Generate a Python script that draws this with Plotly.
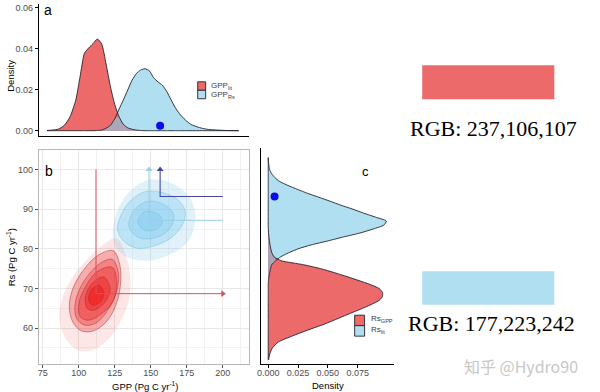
import numpy as np
import plotly.graph_objects as go

# ---------------- data ----------------
# Panel a: GPP density curves
gpp_grid = [78, 82, 86, 90, 94, 98, 101, 104, 107, 110, 113, 116, 119, 122, 125, 128, 131, 134, 137,
            140, 143, 146, 149, 152, 155, 158, 161, 164, 167, 170, 174, 178, 182, 186, 190, 196, 202, 211]
gpp_lit_density = [0.0001, 0.0003, 0.0008, 0.0026, 0.0068, 0.015, 0.0265, 0.0378, 0.0404, 0.0425,
                   0.0447, 0.0422, 0.0325, 0.0215, 0.0128, 0.0068, 0.0031, 0.0014, 0.0007, 0.0003,
                   0.0001, 0, 0, 0, 0, 0, 0, 0, 0, 0, 0, 0, 0, 0, 0, 0, 0, 0]
gpp_rs_density = [0, 0, 0, 0, 0, 0, 0, 0, 0, 0, 0.0001, 0.0003, 0.0012, 0.0026, 0.0058, 0.0105,
                  0.015, 0.0198, 0.0246, 0.0278, 0.0296, 0.0302, 0.0292, 0.0258, 0.0238, 0.0222,
                  0.0192, 0.0152, 0.0112, 0.0082, 0.0052, 0.003, 0.0019, 0.0011, 0.0006, 0.0003,
                  0.0001, 0]

# Panel c: Rs density curves
rs_grid = [52, 53.5, 55, 56.5, 58, 59.5, 61, 62.5, 64, 65.5, 67, 68, 69, 70, 71, 72, 73, 74, 75, 76,
           77, 78, 79, 80, 81, 82, 83, 84, 85, 86, 87, 88, 89, 90, 91, 92, 93, 94, 95, 96, 97, 98,
           99, 100, 101, 102, 103]
rs_gpp_density = [0.0003, 0.0013, 0.0035, 0.0085, 0.02, 0.033, 0.047, 0.059, 0.071, 0.083, 0.093,
                  0.0958, 0.0958, 0.093, 0.0855, 0.076, 0.066, 0.0555, 0.044, 0.0295, 0.011, 0.0048,
                  0.0031, 0.0021, 0.0015, 0.001, 0.0006, 0.0003, 0.0001,
                  0, 0, 0, 0, 0, 0, 0, 0, 0, 0, 0, 0, 0, 0, 0, 0, 0, 0]
rs_lit_density = [0, 0, 0, 0, 0, 0, 0, 0, 0, 0, 0, 0, 0, 0, 0,
                  0.0002, 0.0006, 0.0012, 0.0019, 0.003, 0.0062, 0.0105, 0.017, 0.025, 0.036, 0.05,
                  0.063, 0.077, 0.088, 0.097, 0.099, 0.09, 0.08, 0.071, 0.061, 0.052, 0.0425, 0.033,
                  0.0245, 0.0165, 0.0095, 0.0055, 0.0028, 0.0012, 0.0006, 0.0002, 0]

# Observed point (blue dots)
obs_gpp = 156.5
obs_rs = 93.2
obs_gpp_density = 0.0024
obs_rs_density = 0.0053

# Panel b: cloud outlines (GPP, Rs)
red_halo_gpp = [127, 133, 136, 134, 128, 120, 110, 99, 90, 86.5, 89, 96, 105, 115, 123, 127]
red_halo_rs = [82.5, 78, 72, 66, 61, 57, 54.5, 54.5, 58, 63, 68, 73, 77, 80.5, 82.5, 82.5]
red_outer_gpp = [124, 128.5, 129, 126, 119, 110, 102, 96, 93.5, 96, 104, 114, 124]
red_outer_rs = [79.5, 76, 71, 66, 61.5, 59.3, 59.3, 61.5, 65.5, 70, 75, 78.5, 79.5]
red_ring2_gpp = [123.5, 127.5, 126.5, 121, 112, 104, 98.5, 97.5, 101.5, 110, 118, 123.5]
red_ring2_rs = [77.3, 74, 69.5, 65, 61.3, 60.8, 62.5, 66, 70.5, 74.8, 77, 77.3]
red_mid_gpp = [123, 126.4, 124.1, 116.1, 106.9, 101.2, 100.1, 104.7, 112.6, 123]
red_mid_rs = [75.4, 72.1, 67, 63.7, 62, 62.8, 66.2, 70.4, 74.2, 75.4]
red_inner_gpp = [117.2, 121.8, 118.4, 110.4, 105.8, 104.7, 109.2, 117.2]
red_inner_rs = [72.9, 70, 66.6, 64.5, 65, 67.9, 71.2, 72.9]
red_core_gpp = [114, 117.5, 115, 109.5, 107, 108.5, 114]
red_core_rs = [70.8, 69, 66.6, 65.8, 67, 69.5, 70.8]

blue_halo_gpp = [150, 165, 177, 181, 176, 163, 147, 133, 125, 124, 130, 140, 150]
blue_halo_rs = [97.5, 96.5, 93, 88, 82, 78.5, 77, 78, 81, 86, 92, 96, 97.5]
blue_outer_gpp = [147, 160, 170, 174, 171, 163, 150, 140, 131, 127, 130, 137, 147]
blue_outer_rs = [94.5, 94, 92, 89, 85.5, 82.5, 80.5, 80.2, 82, 85, 89, 92.5, 94.5]
blue_mid_gpp = [148, 160, 166, 163, 153, 142, 135, 138, 148]
blue_mid_rs = [92, 91, 88.5, 85, 82.8, 82.8, 85.5, 89.5, 92]
blue_inner_gpp = [148, 156, 158, 153, 145, 141, 144, 148]
blue_inner_rs = [89.5, 88.5, 86.5, 84.8, 84.8, 87, 89, 89.5]

# Guide lines in panel b: red, light blue, dark blue
guide_gpp = [112.0, 148.8, 156.5]
guide_rs = [68.7, 87.2, 93.2]
guide_top = 100
guide_right = 200

# Ticks
gpp_ticks = [75, 100, 125, 150, 175, 200]
rs_ticks = [60, 70, 80, 90, 100]
dens_a_ticks = [0, 0.02, 0.04, 0.06]
dens_a_labels = ["0.00", "0.02", "0.04", "0.06"]
dens_c_ticks = [0, 0.025, 0.05, 0.075]
dens_c_labels = ["0.000", "0.025", "0.050", "0.075"]

# Swatch colours
red_rgb = [237, 106, 107]
blue_rgb = [177, 223, 242]

# ---------------- styling ----------------
RED = "rgb({},{},{})".format(*red_rgb)
BLUE = "rgb({},{},{})".format(*blue_rgb)
GREY = "rgb(170,167,187)"
OUTLINE = "rgb(35,35,45)"
FONT = "Liberation Sans, Arial, sans-serif"
TICKC = "rgb(77,77,77)"
W, H = 600, 392


def px(v):
    return v / W


def py(v):
    return 1 - v / H


fig = go.Figure()
sp = dict(shape="spline", smoothing=0.6)

# ---- panel a ----
ov_a = np.minimum(np.array(gpp_lit_density), np.array(gpp_rs_density))
for yv, col in [(gpp_rs_density, BLUE), (gpp_lit_density, RED), (ov_a, GREY)]:
    fig.add_trace(go.Scatter(x=gpp_grid, y=yv, mode="lines", fill="tozeroy", fillcolor=col,
                             line=dict(width=0, **sp), xaxis="x", yaxis="y", hoverinfo="skip"))
for yv in [gpp_rs_density, gpp_lit_density]:
    fig.add_trace(go.Scatter(x=gpp_grid, y=yv, mode="lines", line=dict(width=0.9, color=OUTLINE, **sp),
                             xaxis="x", yaxis="y", hoverinfo="skip"))
fig.add_trace(go.Scatter(x=[obs_gpp], y=[obs_gpp_density], mode="markers",
                         marker=dict(size=8, color="rgb(10,10,240)"), xaxis="x", yaxis="y"))

# ---- panel b ----
RLINE = "rgba(170,40,50,0.7)"
BLINE = "rgba(120,190,220,0.7)"
clouds = [
    (red_halo_gpp, red_halo_rs, "rgba(240,60,60,0.13)", "rgba(0,0,0,0)"),
    (blue_halo_gpp, blue_halo_rs, "rgba(130,200,235,0.25)", "rgba(0,0,0,0)"),
    (red_outer_gpp, red_outer_rs, "rgba(238,40,40,0.3)", RLINE),
    (red_ring2_gpp, red_ring2_rs, "rgba(238,35,35,0.3)", RLINE),
    (red_mid_gpp, red_mid_rs, "rgba(238,30,30,0.35)", RLINE),
    (red_inner_gpp, red_inner_rs, "rgba(238,25,25,0.4)", RLINE),
    (red_core_gpp, red_core_rs, "rgba(238,20,20,0.45)", RLINE),
    (blue_outer_gpp, blue_outer_rs, "rgba(120,200,238,0.35)", BLINE),
    (blue_mid_gpp, blue_mid_rs, "rgba(120,200,238,0.3)", BLINE),
    (blue_inner_gpp, blue_inner_rs, "rgba(120,200,238,0.3)", BLINE),
]
for gx, ry, fc, lc in clouds:
    fig.add_trace(go.Scatter(x=gx, y=ry, mode="lines", fill="toself", fillcolor=fc,
                             line=dict(width=0.7, color=lc, shape="spline", smoothing=1.0),
                             xaxis="x2", yaxis="y2", hoverinfo="skip"))

guide_cols = ["rgb(220,80,90)", "rgb(150,208,228)", "rgb(70,70,165)"]
# red: vertical from top down, horizontal to right
fig.add_trace(go.Scatter(x=[guide_gpp[0], guide_gpp[0], guide_right],
                         y=[guide_top, guide_rs[0], guide_rs[0]], mode="lines",
                         line=dict(width=1, color=guide_cols[0]), xaxis="x2", yaxis="y2"))
for i in (1, 2):
    fig.add_trace(go.Scatter(x=[guide_gpp[i], guide_gpp[i], guide_right],
                             y=[guide_top, guide_rs[i], guide_rs[i]], mode="lines",
                             line=dict(width=1.1 if i == 2 else 1, color=guide_cols[i]),
                             xaxis="x2", yaxis="y2"))
# arrow heads
fig.add_trace(go.Scatter(x=[guide_right], y=[guide_rs[0]], mode="markers",
                         marker=dict(symbol="triangle-right", size=6, color=guide_cols[0]),
                         xaxis="x2", yaxis="y2"))
fig.add_trace(go.Scatter(x=guide_gpp[1:], y=[guide_top, guide_top], mode="markers",
                         marker=dict(symbol="triangle-up", size=6, color=guide_cols[1:]),
                         xaxis="x2", yaxis="y2"))

# ---- panel c ----
ov_c = np.minimum(np.array(rs_gpp_density), np.array(rs_lit_density))
for xv, col in [(rs_lit_density, BLUE), (rs_gpp_density, RED), (ov_c, GREY)]:
    fig.add_trace(go.Scatter(x=xv, y=rs_grid, mode="lines", fill="tozerox", fillcolor=col,
                             line=dict(width=0, **sp), xaxis="x3", yaxis="y3", hoverinfo="skip"))
for xv in [rs_lit_density, rs_gpp_density]:
    fig.add_trace(go.Scatter(x=xv, y=rs_grid, mode="lines", line=dict(width=0.9, color=OUTLINE, **sp),
                             xaxis="x3", yaxis="y3", hoverinfo="skip"))
fig.add_trace(go.Scatter(x=[obs_rs_density], y=[obs_rs], mode="markers",
                         marker=dict(size=8, color="rgb(10,10,240)"), xaxis="x3", yaxis="y3"))

# ---------------- axes ----------------
tickfont = dict(family=FONT, size=9, color=TICKC)
gpp_range = [72.3, 218.4]
rs_range = [50.94, 105.03]
fig.update_layout(
    width=W, height=H, margin=dict(l=0, r=0, t=0, b=0),
    paper_bgcolor="white", plot_bgcolor="white", showlegend=False,
    xaxis=dict(domain=[px(35), px(247)], range=gpp_range, showline=True, linecolor="black", linewidth=1,
               showticklabels=False, ticks="", showgrid=False, zeroline=False, anchor="y"),
    yaxis=dict(domain=[py(135), py(3)], range=[-0.00243, 0.0618], tickvals=dens_a_ticks,
               ticktext=dens_a_labels, ticks="outside", ticklen=3, tickcolor="black", showline=True,
               linecolor="black", linewidth=1, showgrid=False, zeroline=False, anchor="x", tickfont=tickfont),
    xaxis2=dict(domain=[px(35), px(247)], range=gpp_range, tickvals=gpp_ticks, ticks="outside", ticklen=3,
                tickcolor="rgb(80,80,80)", showline=True, mirror=True, linecolor="rgb(185,185,185)",
                linewidth=1, showgrid=True, gridcolor="rgb(232,232,232)", gridwidth=0.8, zeroline=False,
                minor=dict(tick0=62.5, dtick=12.5, showgrid=True, gridcolor="rgb(242,242,242)", gridwidth=0.5),
                anchor="y2", tickfont=tickfont, ticklabelstandoff=-3),
    yaxis2=dict(domain=[py(364), py(149)], range=rs_range, tickvals=rs_ticks, ticks="outside", ticklen=3,
                tickcolor="rgb(80,80,80)", showline=True, mirror=True, linecolor="rgb(185,185,185)",
                linewidth=1, showgrid=True, gridcolor="rgb(232,232,232)", gridwidth=0.8, zeroline=False,
                minor=dict(tick0=55, dtick=5, showgrid=True, gridcolor="rgb(242,242,242)", gridwidth=0.5),
                anchor="x2", tickfont=tickfont),
    xaxis3=dict(domain=[px(259), px(393)], range=[-0.00583, 0.1058], tickvals=dens_c_ticks,
                ticktext=dens_c_labels, ticks="outside", ticklen=3, tickcolor="black", showline=True,
                linecolor="black", linewidth=1, showgrid=False, zeroline=False, anchor="y3", tickfont=tickfont,
                ticklabelstandoff=-3),
    yaxis3=dict(domain=[py(364), py(147)], range=[rs_range[0], rs_range[1] + 0.5], showline=True,
                linecolor="black", linewidth=1, showticklabels=False, ticks="", showgrid=False,
                zeroline=False, anchor="x3"),
)

# ---------------- text & legends ----------------
annotations = []


def txt(x, y, t, size=9, color="black", xanchor="center", angle=0, family=FONT):
    annotations.append(dict(x=px(x), y=py(y), xref="paper", yref="paper", text=t, showarrow=False,
                            xanchor=xanchor, yanchor="middle", textangle=angle,
                            font=dict(family=family, size=size, color=color)))


txt(44, 9, "a", size=14)
txt(45, 170, "b", size=14)
txt(364, 171, "c", size=13)
txt(7, 75, "Density", size=9.5, angle=-90)
txt(7, 257, "Rs (Pg C yr<sup>-1</sup>)", size=9.5, angle=-90)
txt(142, 385.5, "GPP (Pg C yr<sup>-1</sup>)", size=9.5)
txt(326, 385.5, "Density", size=9.5)

shapes = []


def box(x0, y0, x1, y1, fill, lw=0.9, lc=OUTLINE):
    shapes.append(dict(type="rect", xref="paper", yref="paper", x0=px(x0), x1=px(x1), y0=py(y1), y1=py(y0),
                       fillcolor=fill, line=dict(width=lw, color=lc)))


box(195, 81, 203, 89.5, RED)
box(195, 89.5, 203, 98, BLUE)
txt(206, 85, "GPP<sub>lit</sub>", size=8, color="rgb(60,60,60)", xanchor="left")
txt(206, 94, "GPP<sub>Rs</sub>", size=8, color="rgb(60,60,60)", xanchor="left")

box(353, 315, 363, 325.5, RED)
box(353, 325.5, 363, 336, BLUE)
txt(367, 319, "Rs<sub>GPP</sub>", size=8, color="rgb(60,60,60)", xanchor="left")
txt(367, 330, "Rs<sub>lit</sub>", size=8, color="rgb(60,60,60)", xanchor="left")

# colour swatches
box(421, 64.5, 554, 98.5, RED, lw=0, lc="rgba(0,0,0,0)")
box(421, 271, 554, 304.5, BLUE, lw=0, lc="rgba(0,0,0,0)")
txt(493, 128, "RGB: {},{},{}".format(*red_rgb), size=22, family="Liberation Serif, Times New Roman, serif")
txt(491, 323, "RGB: {},{},{}".format(*blue_rgb), size=22, family="Liberation Serif, Times New Roman, serif")
txt(520, 366, "知乎 @Hydro90", size=16, color="rgb(200,200,200)",
    family="Noto Sans CJK SC, Liberation Sans, sans-serif")

fig.update_layout(annotations=annotations, shapes=shapes)
fig.write_html("out.html", config={"displayModeBar": False},
               post_script="document.body.style.margin='0px';document.body.style.overflow='hidden';")
